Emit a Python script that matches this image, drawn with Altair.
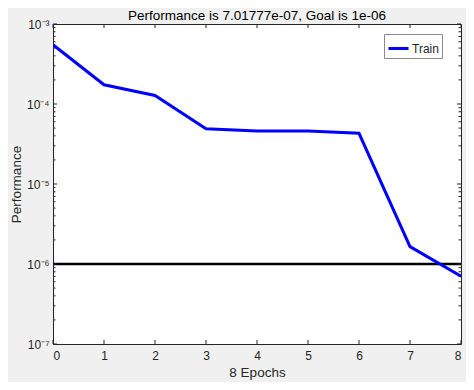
import altair as alt
import pandas as pd

# ---- data ----
epochs = [0, 1, 2, 3, 4, 5, 6, 7, 8]
train_perf = [5.5e-4, 1.74e-4, 1.28e-4, 4.9e-5, 4.6e-5, 4.6e-5, 4.3e-5, 1.65e-6, 7.01777e-7]
goal = 1e-6
title_text = "Performance is 7.01777e-07, Goal is 1e-06"
x_ticks = [0, 1, 2, 3, 4, 5, 6, 7, 8]
y_major = [1e-7, 1e-6, 1e-5, 1e-4, 1e-3]
y_minor = [m * d for d in [1e-7, 1e-6, 1e-5, 1e-4] for m in range(2, 10)]

W, H = 408, 320
AX = "#262626"
FONT = "Liberation Sans"

df = pd.DataFrame({"epoch": epochs, "perf": train_perf, "series": ["Train"] * len(epochs)})
goal_df = pd.DataFrame({"goal": [goal]})
title_df = pd.DataFrame({"t": [title_text]})
xt = pd.DataFrame({"x": x_ticks})
ymaj = pd.DataFrame({"y": y_major})
ymin = pd.DataFrame({"y": y_minor})

xscale = alt.Scale(domain=[0, 8], nice=False, zero=False)
yscale = alt.Scale(type="log", domain=[1e-7, 1e-3], nice=False)

label_expr = ("'10' + '\u207b' + ['\u2070','\u00b9','\u00b2','\u00b3','\u2074','\u2075','\u2076','\u2077','\u2078','\u2079']"
              "[-round(log(datum.value)/LN10)]")

line = alt.Chart(df).mark_line(strokeWidth=3, clip=True).encode(
    x=alt.X("epoch:Q", scale=xscale,
            axis=alt.Axis(values=x_ticks, title="8 Epochs", ticks=False, domain=False, grid=False,
                          labelPadding=6, format="d", titlePadding=4)),
    y=alt.Y("perf:Q", scale=yscale,
            axis=alt.Axis(values=y_major, title="Performance", ticks=False, domain=False, grid=False,
                          labelExpr=label_expr, labelPadding=4, titlePadding=3)),
    color=alt.Color("series:N", scale=alt.Scale(domain=["Train"], range=["#0000ff"]),
                    legend=alt.Legend(title=None, orient="none", legendX=331, legendY=10,
                                      symbolType="stroke", symbolSize=400, symbolStrokeWidth=3,
                                      strokeColor="#8a8a8a", fillColor="white", padding=3,
                                      labelFontSize=12, labelFont=FONT, labelColor=AX,
                                      cornerRadius=0, labelOffset=2)),
)

goal_rule = alt.Chart(goal_df).mark_rule(color="black", strokeWidth=2.5).encode(
    y=alt.Y("goal:Q", scale=yscale)
)

title_mark = alt.Chart(title_df).mark_text(
    font=FONT, fontSize=13.5, color="black", align="center", baseline="alphabetic"
).encode(text="t:N", x=alt.value(W / 2), y=alt.value(-4))

def xticks(y0, y1):
    return alt.Chart(xt).mark_rule(color=AX, strokeWidth=1).encode(
        x=alt.X("x:Q", scale=xscale), y=alt.value(y0), y2=alt.value(y1))

def yticks(d, x0, x1):
    return alt.Chart(d).mark_rule(color=AX, strokeWidth=1).encode(
        y=alt.Y("y:Q", scale=yscale), x=alt.value(x0), x2=alt.value(x1))

ticks = [
    xticks(H, H - 4), xticks(0, 4),
    yticks(ymaj, 0, 4), yticks(ymaj, W, W - 4),
    yticks(ymin, 0, 2.5), yticks(ymin, W, W - 2.5),
]

chart = alt.layer(goal_rule, *ticks, line, title_mark).properties(
    width=W, height=H,
    autosize=alt.AutoSizeParams(type="none"),
    padding={"left": 45, "top": 16, "right": 5, "bottom": 38},
    background="#f0f0f0",
).configure_view(
    fill="white", stroke=AX, strokeWidth=1
).configure_axis(
    labelFont=FONT, labelFontSize=12, labelColor=AX,
    titleFont=FONT, titleFontSize=13.5, titleColor=AX, titleFontWeight="normal",
)

chart.save("out.html", embed_options={"renderer": "svg", "actions": False})
